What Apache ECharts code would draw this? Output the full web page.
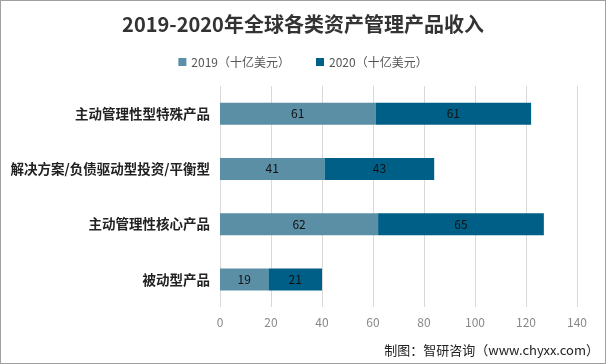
<!DOCTYPE html>
<html><head><meta charset="utf-8">
<script src="https://cdn.jsdelivr.net/npm/echarts@6/dist/echarts.min.js"></script>
<style>html,body{margin:0;padding:0;background:#fff}#c{width:604px;height:362px;border:1px solid #a0a0a0}</style>
</head><body><div id="c"></div>
<script>
var categories = ['被动型产品','主动管理性核心产品','解决方案/负债驱动型投资/平衡型','主动管理性型特殊产品'];
var values2019 = [19, 62, 41, 61];
var values2020 = [21, 65, 43, 61];
var xTicks = [0, 20, 40, 60, 80, 100, 120, 140];
var seriesNames = ['2019（十亿美元）','2020（十亿美元）'];
var chart = echarts.init(document.getElementById('c'));
var font = '"Noto Sans CJK SC", "Noto Sans", sans-serif';
chart.setOption({
  animation:false,
  title:{text:'2019-2020年全球各类资产管理产品收入',left:'center',top:8,textStyle:{fontSize:20,fontWeight:'bold',color:'#333',fontFamily:font}},
  legend:{top:50,left:'center',itemWidth:8,itemHeight:8,itemGap:26,icon:'rect',textStyle:{fontSize:12,color:'#555',fontFamily:font},data:seriesNames},
  grid:{left:219,right:28,top:85,bottom:56},
  xAxis:{type:'value',min:0,max:140,interval:20,axisLine:{show:false},axisTick:{show:false},
    splitLine:{lineStyle:{color:'#d9d9d9'}},axisLabel:{color:'#888',fontSize:12,margin:9,fontFamily:font,formatter:function(v){return xTicks.indexOf(v)>=0?String(v):'';}}},
  yAxis:{type:'category',data:categories,axisLine:{show:false},axisTick:{show:false},
    axisLabel:{color:'#222',fontSize:13.5,fontWeight:'bold',margin:10,fontFamily:font}},
  series:[
    {name:seriesNames[0],type:'bar',stack:'a',data:values2019,barWidth:22,itemStyle:{color:'#5b8fa5'},
     label:{show:true,position:'inside',color:'#111',fontSize:12,fontFamily:font}},
    {name:seriesNames[1],type:'bar',stack:'a',data:values2020,barWidth:22,itemStyle:{color:'#005f86'},
     label:{show:true,position:'inside',color:'#111',fontSize:12,fontFamily:font}}
  ],
  graphic:[{type:'text',right:6,bottom:6,style:{text:'制图：智研咨询（www.chyxx.com）',fontSize:13,fill:'#222',fontFamily:font}}]
});
</script></body></html>
